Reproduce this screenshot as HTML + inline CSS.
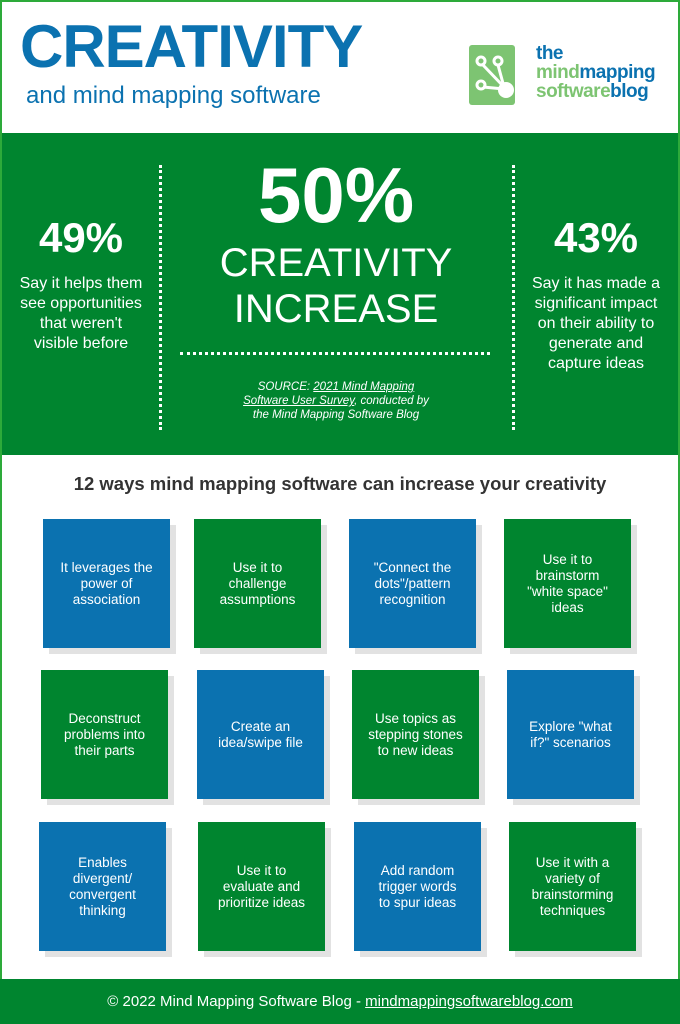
<!DOCTYPE html><html><head><style>
body{margin:0;width:680px;height:1024px;position:relative;font-family:"Liberation Sans",sans-serif;background:#fff;overflow:hidden}
.frame{position:absolute;left:0;top:0;width:676px;height:1020px;border:2px solid #2daa3a}
.abs{position:absolute}
.g{background:#00852f}
.box{position:absolute;width:127px;height:129px;color:#fff;font-size:13.5px;line-height:16px;text-align:center;display:flex;align-items:center;justify-content:center;box-shadow:6px 6px 0 #e2e2e2}
.b{background:#0b72b0}.gr{background:#00852f}
.vd{position:absolute;width:0;border-left:3px dotted #fff}
</style></head><body>
<div class="frame"></div>
<div class="abs" style="left:20px;top:12px;font-size:60px;font-weight:bold;color:#0b72b0;letter-spacing:-1px">CREATIVITY</div>
<div class="abs" style="left:26px;top:82px;font-size:24px;color:#0b72b0">and mind mapping software</div>
<div class="abs" style="left:469px;top:45px;width:46px;height:60px;background:#7dc472;border-radius:3px"></div>
<svg class="abs" style="left:469px;top:45px" width="46" height="60"><g stroke="#fff" stroke-width="3" fill="none"><circle cx="12" cy="16" r="4"/><circle cx="29" cy="16" r="4"/><circle cx="12" cy="40" r="4"/><line x1="14" y1="20" x2="35" y2="42"/><line x1="29" y1="20" x2="35" y2="42"/><line x1="14" y1="42" x2="35" y2="44"/></g><circle cx="37" cy="45" r="8" fill="#fff"/></svg>
<div class="abs" style="left:536px;top:44px;font-size:19px;line-height:19px;font-weight:bold;color:#0b72b0;letter-spacing:-0.5px">the<br><span style="color:#7dc472">mind</span>mapping<br><span style="color:#7dc472">software</span>blog</div>
<div class="abs g" style="left:2px;top:133px;width:676px;height:322px"></div>
<div class="vd" style="left:159px;top:165px;height:265px"></div>
<div class="vd" style="left:512px;top:165px;height:265px"></div>
<div class="abs" style="left:180px;top:352px;width:310px;border-top:3px dotted #fff"></div>
<div class="abs" style="left:18px;top:214px;width:126px;text-align:center;color:#fff;font-size:42px;font-weight:bold">49%</div>
<div class="abs" style="left:18px;top:274px;width:126px;text-align:center;color:#fff;font-size:16px;line-height:20px">Say it helps them see opportunities that weren't visible before</div>
<div class="abs" style="left:533px;top:214px;width:126px;text-align:center;color:#fff;font-size:42px;font-weight:bold">43%</div>
<div class="abs" style="left:530px;top:274px;width:132px;text-align:center;color:#fff;font-size:16px;line-height:20px">Say it has made a significant impact on their ability to generate and capture ideas</div>
<div class="abs" style="left:160px;top:150px;width:352px;text-align:center;color:#fff;font-size:78px;font-weight:900;line-height:90px">50%</div>
<div class="abs" style="left:160px;top:240px;width:352px;text-align:center;color:#fff;font-size:40px;line-height:46px">CREATIVITY<br>INCREASE</div>
<div class="abs" style="left:160px;top:380px;width:352px;text-align:center;color:#fff;font-size:11.5px;line-height:14px;font-style:italic">SOURCE: <u>2021 Mind Mapping<br>Software User Survey</u>, conducted by<br>the Mind Mapping Software Blog</div>
<div class="abs" style="left:0;top:473px;width:680px;text-align:center;color:#333;font-size:18.5px;font-weight:bold">12 ways mind mapping software can increase your creativity</div>
<div class="box b" style="left:43px;top:519px">It leverages the<br>power of<br>association</div>
<div class="box gr" style="left:194px;top:519px">Use it to<br>challenge<br>assumptions</div>
<div class="box b" style="left:349px;top:519px">"Connect the<br>dots"/pattern<br>recognition</div>
<div class="box gr" style="left:504px;top:519px">Use it to<br>brainstorm<br>"white space"<br>ideas</div>
<div class="box gr" style="left:41px;top:670px">Deconstruct<br>problems into<br>their parts</div>
<div class="box b" style="left:197px;top:670px">Create an<br>idea/swipe file</div>
<div class="box gr" style="left:352px;top:670px">Use topics as<br>stepping stones<br>to new ideas</div>
<div class="box b" style="left:507px;top:670px">Explore "what<br>if?" scenarios</div>
<div class="box b" style="left:39px;top:822px">Enables<br>divergent/<br>convergent<br>thinking</div>
<div class="box gr" style="left:198px;top:822px">Use it to<br>evaluate and<br>prioritize ideas</div>
<div class="box b" style="left:354px;top:822px">Add random<br>trigger words<br>to spur ideas</div>
<div class="box gr" style="left:509px;top:822px">Use it with a<br>variety of<br>brainstorming<br>techniques</div>
<div class="abs g" style="left:0;top:979px;width:680px;height:45px;color:#fff;font-size:15px;text-align:center;line-height:45px">© 2022 Mind Mapping Software Blog - <u>mindmappingsoftwareblog.com</u></div>
</body></html>
